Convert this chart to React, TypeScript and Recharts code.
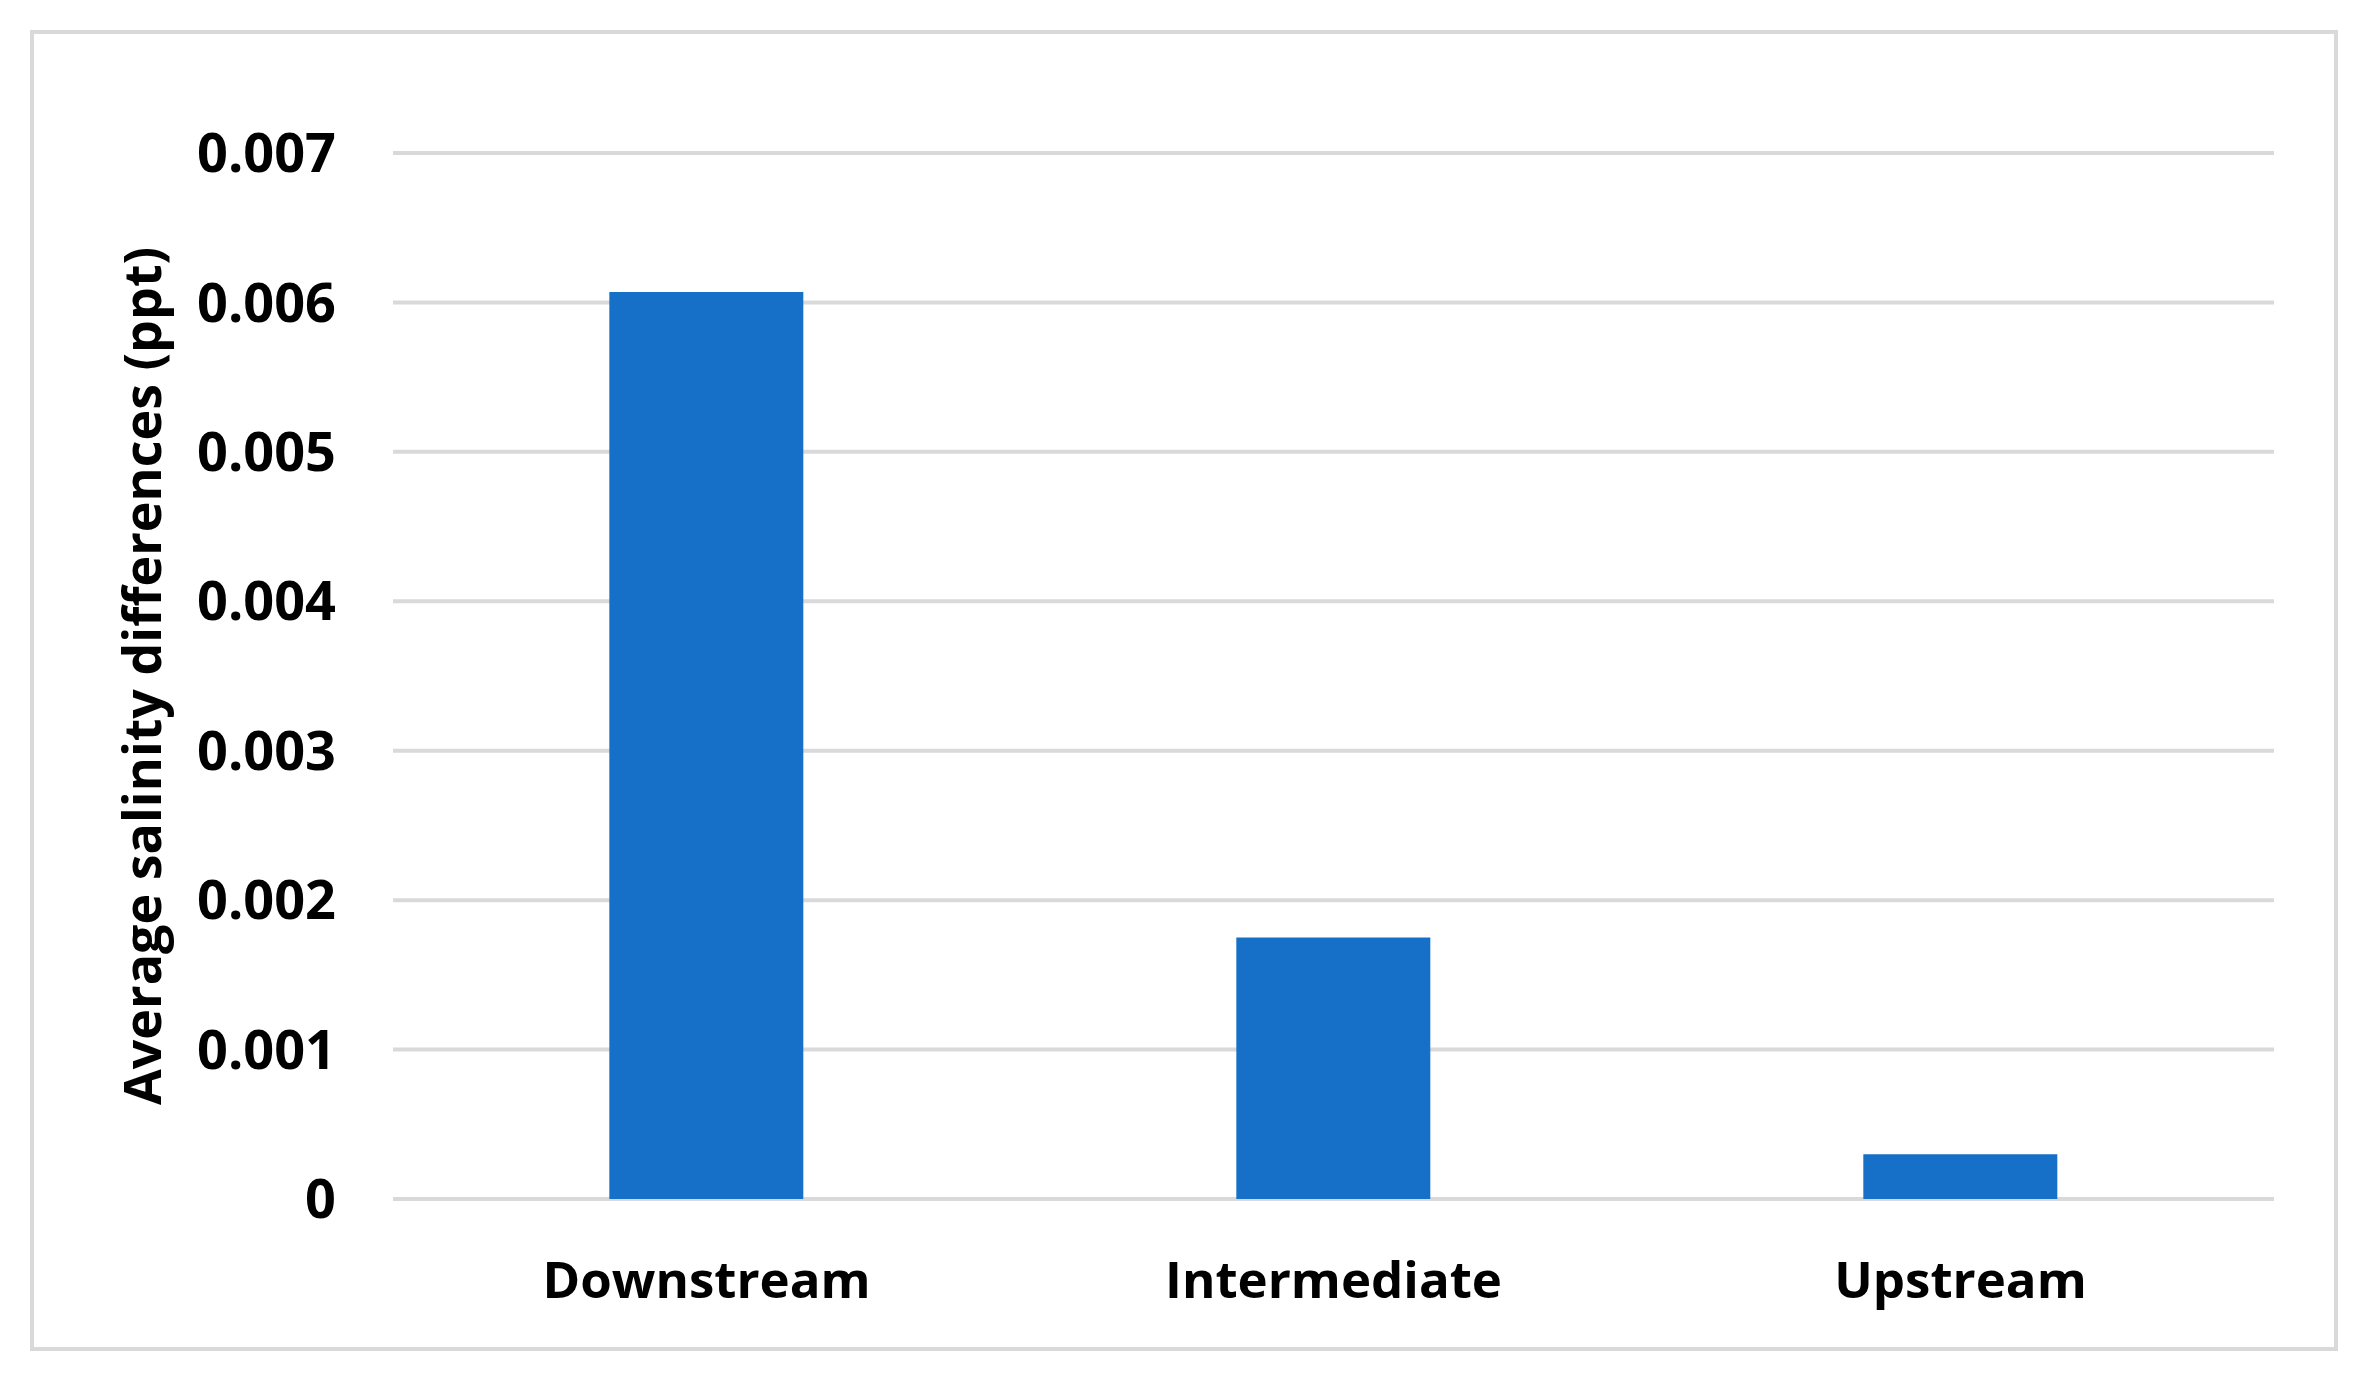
import React from "react";
import { BarChart, Bar, XAxis, YAxis, CartesianGrid, Label } from "recharts";

const categories = ["Downstream", "Intermediate", "Upstream"];
const salinityDiff = [0.00607, 0.00175, 0.0003];
const yTicks = [0, 0.001, 0.002, 0.003, 0.004, 0.005, 0.006, 0.007];
const yTitle = "Average salinity differences (ppt)";

const data = categories.map((c, i) => ({ name: c, value: salinityDiff[i] }));

const FONT = "'Open Sans', sans-serif";

export default function App() {
  return (
    <div style={{ position: "absolute", left: 0, top: 0, width: 2370, height: 1389, background: "#fff" }}>
      <div
        style={{
          position: "absolute",
          left: 30,
          top: 30,
          width: 2300,
          height: 1313,
          border: "4px solid #D9D9D9",
        }}
      />
      <div style={{ position: "absolute", left: 0, top: 0 }}>
        <BarChart
          width={2370}
          height={1389}
          data={data}
          margin={{ top: 153, right: 96, bottom: 128, left: 0 }}
          barCategoryGap="34.5%"
        >
          <CartesianGrid vertical={false} stroke="#D9D9D9" strokeWidth={4} />
          <XAxis
            dataKey="name"
            height={62}
            axisLine={false}
            tickLine={false}
            tickSize={0}
            tickMargin={63}
            tick={{ fill: "#000", fontSize: 51, fontWeight: 700, fontFamily: FONT }}
          />
          <YAxis
            width={393}
            domain={[0, 0.007]}
            ticks={yTicks}
            interval={0}
            axisLine={false}
            tickLine={false}
            tickSize={0}
            tickMargin={57}
            tickFormatter={(v: number) => (v === 0 ? "0" : v.toFixed(3))}
            tick={{ fill: "#000", fontSize: 54, fontWeight: 700, fontFamily: FONT }}
          >
            <Label
              value={yTitle}
              angle={-90}
              position="center"
              dx={-54}
              style={{ fill: "#000", fontSize: 52, fontWeight: 700, fontFamily: FONT, textAnchor: "middle" }}
            />
          </YAxis>
          <Bar dataKey="value" fill="#1770C8" isAnimationActive={false} />
        </BarChart>
      </div>
    </div>
  );
}
